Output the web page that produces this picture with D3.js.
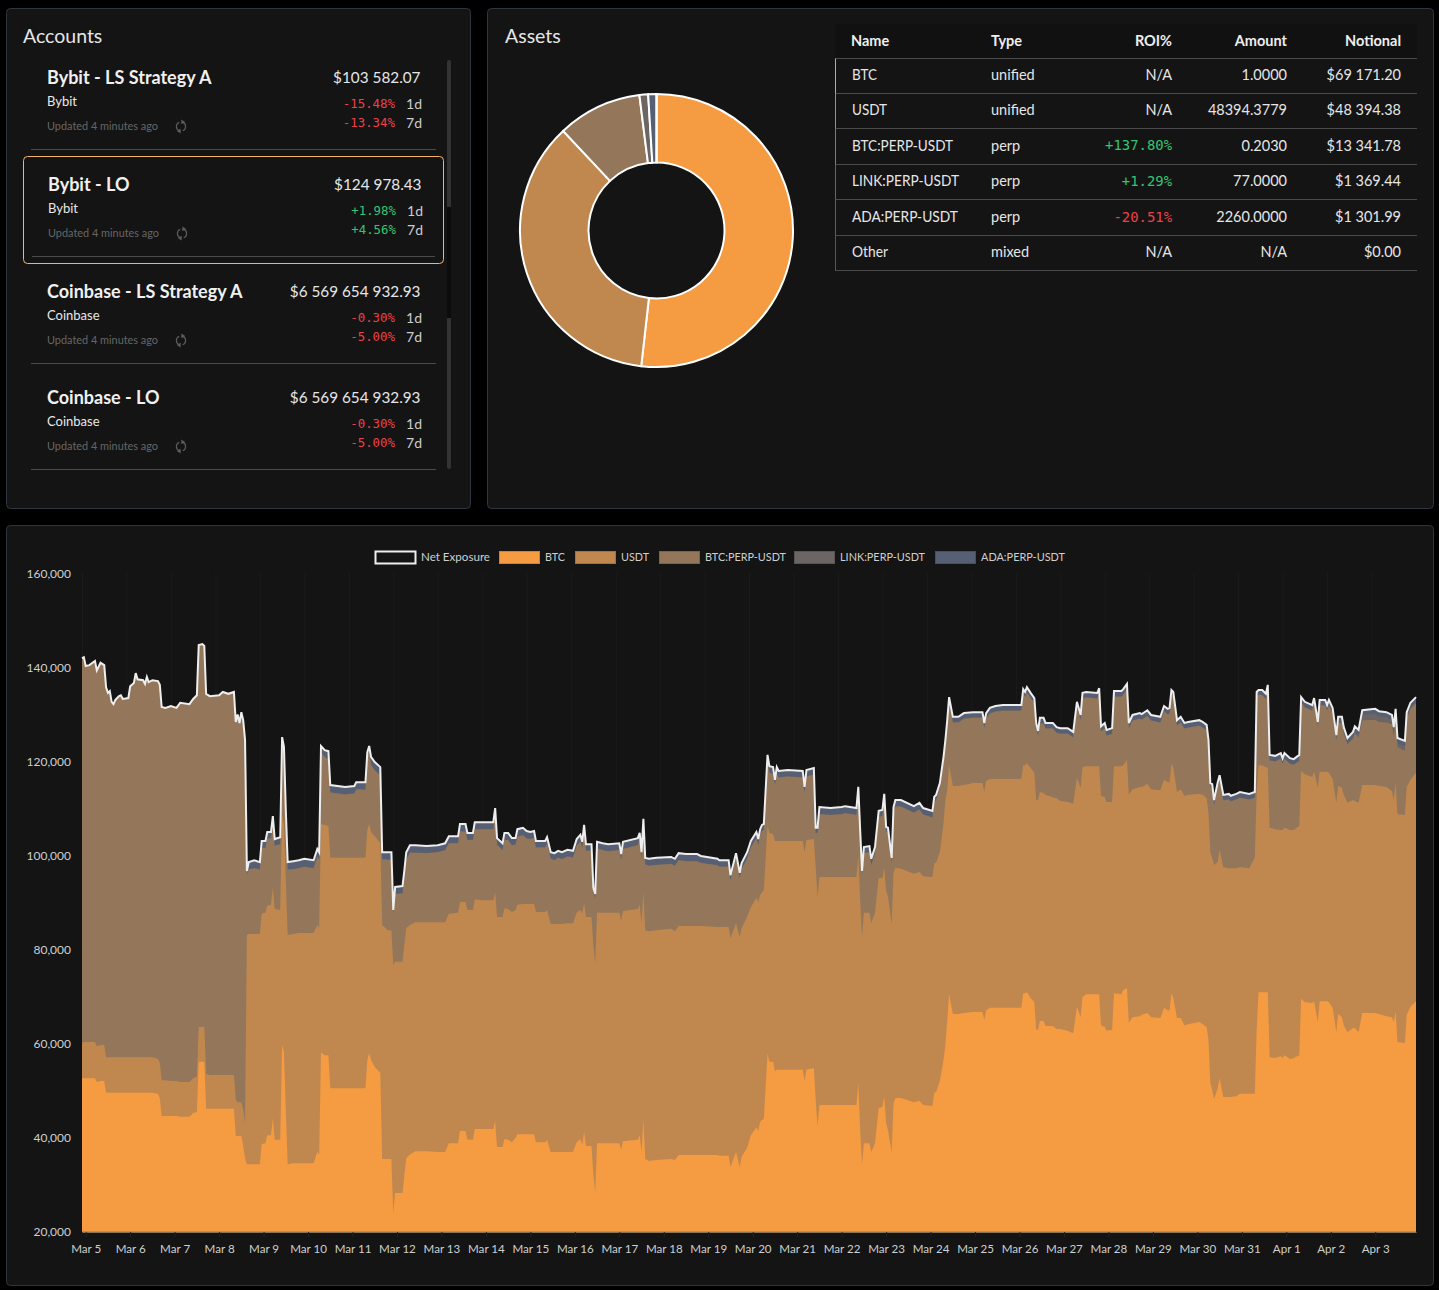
<!DOCTYPE html>
<html>
<head>
<meta charset="utf-8">
<title>Portfolio</title>
<script src="https://cdn.jsdelivr.net/npm/d3@7"></script>
<style>
  html, body { margin: 0; padding: 0; background: #000; }
  svg { display: block; }
  text { font-family: Lato, "Noto Sans", sans-serif; }
  .mono { font-family: "DejaVu Sans Mono", monospace; }
</style>
</head>
<body>
<div id="dashboard"></div>
<script>
// Accounts panel
const accountNames = ['Bybit - LS Strategy A', 'Bybit - LO', 'Coinbase - LS Strategy A', 'Coinbase - LO'];
const accountVenues = ['Bybit', 'Bybit', 'Coinbase', 'Coinbase'];
const accountBalances = ['$103 582.07', '$124 978.43', '$6 569 654 932.93', '$6 569 654 932.93'];
const accountDay = ['-15.48%', '+1.98%', '-0.30%', '-0.30%'];
const accountWeek = ['-13.34%', '+4.56%', '-5.00%', '-5.00%'];

// Assets panel
const assetNames = ['BTC', 'USDT', 'BTC:PERP-USDT', 'LINK:PERP-USDT', 'ADA:PERP-USDT', 'Other'];
const assetTypes = ['unified', 'unified', 'perp', 'perp', 'perp', 'mixed'];
const assetRoi = ['N/A', 'N/A', '+137.80%', '+1.29%', '-20.51%', 'N/A'];
const assetAmounts = ['1.0000', '48394.3779', '0.2030', '77.0000', '2260.0000', 'N/A'];
const assetNotional = ['$69 171.20', '$48 394.38', '$13 341.78', '$1 369.44', '$1 301.99', '$0.00'];
const assetValues = [69171.20, 48394.38, 13341.78, 1369.44, 1301.99, 0];
const assetColors = ['#f59b42', '#c0884f', '#94775a', '#6b6563', '#565f74', '#3b5a8c'];
const tableHeaders = ['Name', 'Type', 'ROI%', 'Amount', 'Notional'];

// Exposure chart, values in thousands of USD, hours counted from the first sample.
const yTickValues = [20, 40, 60, 80, 100, 120, 140, 160];
const xTickLabels = ['Mar 5', 'Mar 6', 'Mar 7', 'Mar 8', 'Mar 9', 'Mar 10', 'Mar 11', 'Mar 12', 'Mar 13', 'Mar 14',
  'Mar 15', 'Mar 16', 'Mar 17', 'Mar 18', 'Mar 19', 'Mar 20', 'Mar 21', 'Mar 22', 'Mar 23', 'Mar 24',
  'Mar 25', 'Mar 26', 'Mar 27', 'Mar 28', 'Mar 29', 'Mar 30', 'Mar 31', 'Apr 1', 'Apr 2', 'Apr 3'];
const xTickHours = [2, 26, 50, 74, 98, 122, 146, 170, 194, 218, 242, 266, 290, 314, 338,
  362, 386, 410, 434, 458, 482, 506, 530, 554, 578, 602, 626, 650, 674, 698];

const hours = [
  0,1,2,4,7,8,10,12,13,14,
  15,16,17,18,20,21,22,25,26,28,
  29,30,33,34,35,36,38,41,42,43,
  45,48,51,53,58,60,62,63,65,66,
  67,69,74,76,79,82,83,84,85,86,
  87,88,89,90,93,96,97,99,100,102,
  103,104,107,108,109,110,111,114,117,120,
  125,127,128,129,131,133,134,142,147,148,
  152,153,154,155,156,158,161,162,165,167,
  168,169,173,174,175,177,180,186,192,196,
  198,203,204,207,208,211,212,216,222,223,
  224,227,228,230,232,234,235,238,240,242,
  244,245,250,251,253,255,257,259,262,265,
  267,269,270,271,272,275,276,277,278,281,
  284,290,291,292,300,301,302,303,304,306,
  310,318,320,322,326,332,334,343,344,349,
  350,353,355,356,359,361,364,365,366,367,
  368,370,371,373,374,375,376,381,389,390,
  391,395,396,397,398,404,410,412,418,419,
  420,421,422,425,426,428,430,432,433,434,
  435,437,438,439,442,449,452,454,459,460,
  461,463,465,466,467,468,470,473,476,481,
  486,487,488,490,493,497,507,508,509,510,
  512,514,515,516,517,519,520,524,526,528,
  532,535,537,539,540,542,548,549,550,552,
  553,556,557,561,562,564,565,567,571,572,
  575,577,582,584,586,587,588,589,591,593,
  595,597,603,605,607,608,609,610,611,613,
  614,616,619,620,623,625,630,633,634,635,
  637,639,640,641,644,647,648,649,652,654,
  657,658,660,664,665,667,668,671,672,673,
  675,677,678,680,681,683,686,687,689,691,
  698,700,704,707,708,709,710,714,715,717,
  720
];

const netExposure = [
  142.0,142.2,140.3,140.5,141.4,139.4,141.0,140.5,135.8,134.6,
  135.0,132.7,132.2,133.1,133.9,134.1,133.3,133.5,136.0,136.7,
  138.8,137.5,137.3,136.5,138.0,136.9,137.3,137.1,136.3,131.6,
  131.4,131.8,131.4,132.5,132.2,133.3,134.1,144.8,145.0,144.6,
  134.4,133.9,134.1,134.8,134.4,134.8,128.4,130.0,128.2,130.5,
  128.8,124.6,96.7,98.6,99.0,98.6,103.1,103.1,105.0,105.0,
  108.4,103.5,103.9,125.2,123.1,109.7,98.6,98.8,99.0,99.3,
  99.0,101.4,100.7,123.3,122.4,122.2,115.0,114.6,114.8,115.6,
  115.6,115.6,122.0,123.3,121.0,119.9,118.8,100.7,100.7,100.7,
  88.4,93.3,93.5,96.9,100.7,102.2,102.2,102.0,102.2,102.6,
  104.1,104.1,106.7,106.7,104.8,104.8,107.1,107.1,107.1,110.1,
  103.7,102.6,104.8,104.8,103.7,103.7,105.6,105.9,105.2,105.0,
  105.2,103.1,103.1,103.9,100.7,100.5,101.0,100.7,101.2,101.0,
  103.5,104.4,102.9,106.5,102.4,102.4,93.1,91.8,102.9,102.6,
  102.4,102.6,100.3,102.9,103.7,104.8,100.7,107.8,99.5,99.3,
  99.5,99.7,99.3,100.5,100.3,100.3,99.9,99.3,99.0,99.0,
  95.8,100.5,96.3,98.4,100.7,103.1,105.0,103.5,105.6,106.5,
  106.7,121.4,119.0,118.8,116.1,118.8,118.0,118.2,118.0,114.6,
  118.2,118.6,105.9,105.9,110.3,110.1,110.3,110.5,110.1,114.6,
  105.4,96.7,101.8,102.0,99.3,101.8,109.5,109.7,113.1,106.1,
  105.9,99.5,110.3,111.8,111.8,110.5,111.2,110.1,109.5,112.5,
  112.9,115.4,121.0,124.6,128.8,133.7,129.5,129.5,130.3,130.5,
  130.5,128.2,130.3,131.4,131.8,132.0,132.0,135.4,134.8,135.8,
  134.6,133.5,128.2,126.5,129.3,129.3,128.2,128.2,127.3,127.1,
  127.1,126.3,132.7,129.9,134.6,134.8,134.6,135.6,127.5,128.2,
  126.7,127.1,135.0,135.0,135.4,136.5,128.2,129.9,130.3,130.1,
  130.9,129.9,129.5,131.8,131.2,131.4,135.2,134.8,128.8,129.5,
  128.2,128.4,128.8,128.4,127.8,124.6,115.4,115.2,111.8,115.6,
  117.1,112.9,113.1,112.7,113.1,113.5,113.1,113.5,134.8,135.2,
  135.2,134.4,136.3,121.4,121.2,121.8,120.7,121.8,120.7,120.5,
  121.4,133.7,132.7,132.0,133.5,128.4,133.1,133.1,132.0,133.1,
  131.4,125.6,129.5,129.5,127.3,125.0,126.3,127.5,126.7,130.9,
  131.2,130.7,130.5,129.9,127.3,131.2,125.0,124.4,130.5,132.5,
  133.7
];

// top edge of the BTC layer
const btcStack = [
  52.6,52.6,52.6,52.6,52.6,51.8,52.0,52.0,49.5,49.5,
  49.5,49.5,49.5,49.5,49.5,49.5,49.5,49.5,49.5,49.5,
  49.5,49.5,49.5,49.5,49.5,49.5,49.5,49.3,48.4,44.6,
  44.6,44.6,44.6,44.4,44.4,45.2,45.4,56.1,56.1,56.1,
  46.1,46.1,46.1,46.1,46.1,46.1,40.3,40.3,40.3,40.3,
  38.2,35.6,34.3,34.3,34.3,34.3,38.6,38.8,40.5,40.5,
  44.1,39.5,39.5,59.7,58.1,45.9,34.3,34.5,34.5,34.5,
  34.5,36.9,36.4,58.1,57.5,57.5,50.5,50.5,50.5,50.5,
  50.5,50.5,56.5,58.0,56.5,55.0,53.8,35.4,35.4,35.4,
  23.9,28.2,28.2,32.0,35.6,36.4,37.1,37.1,36.9,36.9,
  38.8,38.8,41.4,41.4,39.5,39.5,41.8,41.8,41.8,43.5,
  38.0,38.0,39.7,39.5,39.0,39.9,40.7,40.7,40.7,40.7,
  40.7,39.0,39.0,39.5,36.9,36.9,36.9,36.9,36.9,36.9,
  39.0,39.7,38.4,41.2,38.2,38.2,32.0,28.4,38.8,38.8,
  38.8,38.8,37.4,39.2,39.5,40.5,36.9,43.7,35.4,35.0,
  35.2,35.4,35.2,36.3,36.3,36.3,36.3,36.3,36.1,36.1,
  33.7,36.9,33.7,35.9,37.8,40.5,42.2,41.4,43.3,43.7,
  43.9,57.8,56.1,56.1,54.1,54.4,54.4,54.4,54.4,52.0,
  54.4,54.8,48.0,42.4,46.9,46.9,46.9,46.9,46.9,51.6,
  41.6,34.3,38.8,38.8,36.9,38.8,46.3,46.5,48.8,43.1,
  41.6,36.9,47.3,48.4,48.4,47.5,47.8,46.9,46.7,49.5,
  49.7,52.0,56.5,59.7,65.0,70.5,66.3,66.3,66.5,66.7,
  66.7,65.0,67.1,67.6,67.6,67.6,67.6,70.7,70.7,70.9,
  69.7,68.8,62.9,62.9,64.8,64.8,63.7,63.7,63.1,63.1,
  62.7,62.2,67.8,65.6,69.9,70.5,70.5,70.5,63.9,63.5,
  62.7,62.9,70.7,70.5,71.4,71.8,64.4,65.6,65.8,66.1,
  66.5,65.6,65.4,67.6,67.1,67.1,70.7,69.7,65.4,65.4,
  63.9,64.1,64.6,64.1,63.5,60.7,51.6,50.1,48.2,50.5,
  52.6,48.6,48.6,48.6,48.8,49.3,49.3,49.3,62.9,70.9,
  70.9,70.9,70.9,57.1,56.9,57.3,56.9,57.5,56.7,56.9,
  57.5,69.5,68.8,68.6,69.0,64.6,69.0,69.0,69.0,68.8,
  67.6,62.4,66.3,65.6,63.9,62.4,63.3,63.3,62.4,66.5,
  66.5,66.3,65.8,65.6,64.6,66.7,60.3,60.1,66.1,67.8,
  69.0
];

// top edge of the USDT layer
const usdtStack = [
  60.1,60.3,60.3,60.3,60.3,59.4,59.7,59.7,57.1,57.1,
  57.1,57.1,57.1,57.1,57.1,57.1,57.1,57.1,57.1,57.1,
  57.1,57.1,57.1,57.1,57.1,57.1,57.1,56.7,55.9,52.2,
  52.2,52.0,52.0,51.8,51.8,52.6,52.9,63.5,63.5,63.5,
  53.5,53.3,53.3,53.3,53.3,53.3,48.0,47.5,47.5,47.5,
  45.9,43.1,83.1,83.3,83.3,83.3,87.6,87.8,89.3,89.5,
  93.1,88.6,88.4,108.6,106.5,94.8,83.1,83.3,83.5,83.5,
  83.5,85.2,84.6,106.7,106.5,106.3,99.5,99.5,99.5,99.5,
  99.5,99.5,105.4,106.7,105.0,104.1,102.6,85.2,84.1,84.1,
  76.7,77.4,77.4,81.0,84.6,85.2,85.8,85.8,85.8,85.8,
  87.6,87.8,90.1,90.1,88.4,88.4,90.7,90.5,90.5,92.2,
  86.9,86.9,88.8,88.6,88.0,88.4,89.5,89.7,89.7,89.7,
  89.7,88.0,88.0,88.4,85.4,85.4,85.4,85.4,85.6,85.6,
  87.8,88.4,87.6,89.9,86.9,86.9,81.0,77.1,87.8,87.8,
  87.8,87.8,86.1,88.2,88.6,89.5,85.6,92.2,84.1,83.9,
  84.1,84.4,83.9,85.0,85.0,85.0,85.0,84.8,84.8,84.8,
  82.4,85.6,82.6,84.6,86.9,89.0,91.0,90.1,91.6,92.2,
  92.6,106.3,104.8,104.6,103.1,103.1,103.1,103.1,103.1,100.7,
  103.3,103.5,97.5,91.2,95.4,95.4,95.4,95.4,95.4,100.1,
  90.5,82.6,87.8,87.8,85.6,87.8,95.2,95.2,97.4,92.6,
  91.2,85.4,96.3,97.4,97.2,96.1,96.5,95.6,95.4,98.4,
  98.4,100.7,106.9,111.8,113.9,119.2,114.8,114.8,115.0,115.4,
  115.4,113.5,115.9,116.3,116.3,116.3,116.3,119.2,119.2,119.7,
  118.6,117.6,111.8,111.8,113.5,113.3,112.9,112.4,112.2,111.6,
  111.4,111.0,116.5,114.4,118.8,119.0,119.0,119.0,112.7,112.4,
  111.4,111.4,119.0,119.0,119.2,120.3,112.9,114.1,114.6,114.6,
  115.2,114.1,113.9,116.1,115.6,115.6,119.5,118.8,113.5,114.1,
  112.7,112.9,113.1,112.9,112.2,109.0,100.7,99.5,98.0,98.6,
  101.2,97.5,97.3,97.3,97.3,97.5,97.3,99.5,113.3,119.2,
  119.2,118.8,118.8,105.9,105.6,105.4,105.4,105.9,105.4,105.4,
  106.3,118.0,117.3,116.7,117.8,114.4,117.8,117.8,117.8,117.6,
  116.3,111.2,114.8,114.4,112.9,111.2,111.8,111.6,111.2,115.0,
  115.0,114.8,114.6,113.7,111.8,115.4,108.8,108.6,114.6,116.1,
  117.6
];

const adaValues = [
  0,0,0,0,0,0,0,0,0,0,
  0,0,0,0,0,0,0,0,0,0,
  0,0,0,0,0,0,0,0,0,0,
  0,0,0,0,0,0,0,0,0,0,
  0,0,0,0,0,0,0,0,0,0,
  0,0,0.8,1.5,1.6,1.5,1.4,1.4,1.3,1.3,
  1.3,1.3,1.4,0.8,1.0,1.2,1.5,1.6,1.6,1.6,
  1.6,1.5,1.5,1.2,1.4,1.6,1.5,1.5,1.5,1.4,
  1.5,1.5,1.4,0.9,1.6,1.7,1.6,1.4,1.5,1.5,
  0.8,1.4,1.5,1.2,1.5,1.5,1.5,1.4,1.4,1.4,
  1.4,1.4,1.5,1.5,1.4,1.4,1.4,1.4,1.4,0.9,
  1.3,1.4,1.4,1.4,1.4,1.3,1.5,1.5,1.5,1.4,
  1.4,1.3,1.3,1.3,1.3,1.4,1.4,1.4,1.3,1.3,
  1.3,1.3,1.3,1.0,1.3,1.3,1.0,0.8,1.3,1.4,
  1.4,1.4,1.2,1.4,1.4,1.2,1.3,0.6,1.3,1.4,
  1.4,1.4,1.4,1.4,1.4,1.4,1.4,1.3,1.3,1.3,
  1.0,1.0,1.0,1.2,1.3,1.3,1.2,1.2,1.2,1.2,
  1.2,1.0,1.3,1.4,1.0,1.3,1.3,1.3,1.3,1.2,
  1.3,1.3,1.0,1.0,1.4,1.4,1.4,1.4,1.4,1.0,
  1.0,0.8,1.2,1.2,1.2,1.2,1.2,1.2,1.0,0.9,
  1.0,1.0,1.2,1.3,1.3,1.3,1.3,1.3,1.3,1.1,
  1.1,1.0,0.9,0.8,0.8,0.9,1.1,1.1,1.1,1.1,
  1.1,1.0,1.1,1.1,1.1,1.1,1.1,0.9,1.0,1.0,
  1.0,1.0,1.0,1.0,1.1,1.1,1.1,1.1,1.1,1.1,
  1.1,1.1,0.9,1.0,1.1,1.1,1.1,1.0,1.0,1.1,
  1.1,1.1,1.1,1.1,1.1,1.0,1.0,1.1,1.1,1.1,
  1.1,1.1,1.1,1.0,1.1,1.1,1.0,1.0,1.1,1.1,
  1.1,1.1,1.1,1.1,1.1,1.0,0.9,1.0,1.0,1.0,
  1.0,1.1,1.1,1.1,1.1,1.1,1.1,1.1,0.9,0.9,
  1.0,1.0,0.9,1.1,1.1,1.1,1.1,1.1,1.1,1.1,
  1.1,0.9,1.0,1.0,1.0,0.8,1.0,1.0,1.0,1.0,
  1.0,0.9,1.0,1.0,0.9,0.9,1.0,1.0,1.0,1.0,
  1.0,1.0,1.0,1.0,0.9,0.9,1.1,1.1,1.0,1.0,
  1.0
];

const linkValues = [
  0,0,0,0,0,0,0,0,0,0,
  0,0,0,0,0,0,0,0,0,0,
  0,0,0,0,0,0,0,0,0,0,
  0,0,0,0,0,0,0,0,0,0,
  0,0,0,0,0,0,0,0,0,0,
  0,0,0,0.1,0.1,0.1,0.1,0.1,0.1,0.1,
  0.1,0.1,0.1,0.1,0.1,0.1,0.1,0.1,0.1,0.1,
  0.1,0.1,0.1,0.1,0.1,0.1,0.1,0.1,0.1,0.1,
  0.1,0.1,0.1,0.1,0.1,0.1,0.1,0.1,0.1,0.1,
  0.1,0.1,0.1,0.1,0.1,0.1,0.1,0.1,0.1,0.1,
  0.1,0.1,0.1,0.1,0.1,0.1,0.1,0.1,0.1,0.1,
  0.1,0.1,0.1,0.1,0.1,0.1,0.1,0.1,0.1,0.1,
  0.1,0.1,0.1,0.1,0.1,0.1,0.1,0.1,0.1,0.1,
  0.1,0.1,0.1,0.1,0.1,0.1,0.1,0.1,0.1,0.1,
  0.1,0.1,0.1,0.1,0.1,0.1,0.1,0.1,0.1,0.1,
  0.1,0.1,0.1,0.1,0.1,0.1,0.1,0.1,0.1,0.1,
  0.1,0.1,0.1,0.1,0.1,0.1,0.1,0.1,0.1,0.1,
  0.1,0.1,0.1,0.1,0.1,0.1,0.1,0.1,0.1,0.1,
  0.1,0.1,0.1,0.1,0.1,0.1,0.1,0.1,0.1,0.1,
  0.1,0.1,0.1,0.1,0.1,0.1,0.1,0.1,0.1,0.1,
  0.1,0.1,0.1,0.1,0.1,0.1,0.1,0.1,0.1,0.1,
  0.1,0.1,0.1,0.1,0.1,0.1,0.1,0.1,0.1,0.1,
  0.1,0.1,0.1,0.1,0.1,0.1,0.1,0.1,0.1,0.1,
  0.1,0.1,0.1,0.1,0.1,0.1,0.1,0.1,0.1,0.1,
  0.1,0.1,0.1,0.1,0.1,0.1,0.1,0.1,0.1,0.1,
  0.1,0.1,0.1,0.1,0.1,0.1,0.1,0.1,0.1,0.1,
  0.1,0.1,0.1,0.1,0.1,0.1,0.1,0.1,0.1,0.1,
  0.1,0.1,0.1,0.1,0.1,0.1,0.1,0.1,0.1,0.1,
  0.1,0.1,0.1,0.1,0.1,0.1,0.1,0.1,0.1,0.1,
  0.1,0.1,0.1,0.1,0.1,0.1,0.1,0.1,0.1,0.1,
  0.2,0.2,0.2,0.2,0.2,0.2,0.2,0.2,0.2,0.2,
  0.2,0.3,0.3,0.3,0.4,0.5,0.5,0.5,0.6,1.2,
  1.3,1.3,1.2,1.0,0.9,0.7,0.8,1.0,0.4,0.3,
  0.3
];

const legendNames = ['Net Exposure', 'BTC', 'USDT', 'BTC:PERP-USDT', 'LINK:PERP-USDT', 'ADA:PERP-USDT'];
const legendColors = ['#141414', '#f59b42', '#c0884f', '#94775a', '#6b6563', '#565f74'];

const red = '#ef4048', green = '#34c572', textColor = '#e6e6e6', panelColor = '#141414';

const svg = d3.select('#dashboard').append('svg')
  .attr('width', 1439)
  .attr('height', 1290);

function label(parent, x, y, str, size, color, anchor, weight) {
  return parent.append('text')
    .attr('x', x)
    .attr('y', y)
    .attr('dy', '0.35em')
    .attr('text-anchor', anchor || 'start')
    .attr('font-size', size)
    .attr('font-weight', weight || 400)
    .attr('fill', color)
    .text(str);
}

function pctColor(str) {
  return str[0] === '-' ? red : green;
}

// panels
[[6.5, 8.5, 464, 500], [487.5, 8.5, 946, 500], [6.5, 525.5, 1427, 760]].forEach(p => {
  svg.append('rect')
    .attr('x', p[0]).attr('y', p[1]).attr('width', p[2]).attr('height', p[3])
    .attr('rx', 4)
    .attr('fill', panelColor)
    .attr('stroke', '#2e3440');
});

// --- accounts ---
label(svg, 23, 36, 'Accounts', 19.5, textColor);

svg.append('rect').attr('x', 447).attr('y', 60).attr('width', 4).attr('height', 409).attr('rx', 2).attr('fill', '#333');
svg.append('rect').attr('x', 447).attr('y', 207).attr('width', 4).attr('height', 111).attr('fill', '#0c0c0c');

svg.append('rect')
  .attr('x', 23.5).attr('y', 156.5).attr('width', 420).attr('height', 107)
  .attr('rx', 4)
  .attr('fill', 'none')
  .attr('stroke', '#f2b46c');

const rowOffsets = [[0, 0], [1, 107], [0, 214], [0, 320]];
const refreshIcon = d3.arc().innerRadius(4).outerRadius(5.2);

accountNames.forEach((name, i) => {
  const g = svg.append('g').attr('transform', 'translate(' + rowOffsets[i][0] + ',' + rowOffsets[i][1] + ')');
  label(g, 47, 77.5, name, 18, '#f0f0f0', 'start', 700);
  label(g, 47, 101.5, accountVenues[i], 13, '#e8e8e8');
  label(g, 47, 126, 'Updated 4 minutes ago', 10.9, '#666');
  label(g, 420.5, 77.5, accountBalances[i], 15.3, textColor, 'end');
  label(g, 395, 104, accountDay[i], 12.4, pctColor(accountDay[i]), 'end').attr('class', 'mono');
  label(g, 395, 123, accountWeek[i], 12.4, pctColor(accountWeek[i]), 'end').attr('class', 'mono');
  label(g, 422, 104, '1d', 14, '#ccc', 'end');
  label(g, 422, 123, '7d', 14, '#ccc', 'end');

  // refresh glyph: two arcs with little arrow heads
  const icon = g.append('g').attr('transform', 'translate(181,126.5)').attr('fill', '#5c5c5c');
  icon.append('path').attr('d', refreshIcon({ startAngle: 0.35, endAngle: 2.75 }));
  icon.append('path').attr('d', refreshIcon({ startAngle: 3.5, endAngle: 5.9 }));
  icon.append('path').attr('d', d3.symbol(d3.symbolTriangle, 9)()).attr('transform', 'translate(1.6,-4.6) rotate(90)');
  icon.append('path').attr('d', d3.symbol(d3.symbolTriangle, 9)()).attr('transform', 'translate(-1.6,4.6) rotate(-90)');

  g.append('line')
    .attr('x1', 31).attr('x2', i === 1 ? 434 : 436)
    .attr('y1', 149.5).attr('y2', 149.5)
    .attr('stroke', '#4a4a4a');
});

// --- assets ---
label(svg, 505, 36, 'Assets', 19.5, textColor);

const pie = d3.pie().sort(null)(assetValues);
const donutArc = d3.arc().innerRadius(68).outerRadius(136.5);

svg.append('g')
  .attr('transform', 'translate(656.5,230.5)')
  .selectAll('path')
  .data(pie)
  .enter()
  .append('path')
  .attr('d', donutArc)
  .attr('fill', (d, i) => assetColors[i])
  .attr('stroke', '#fff')
  .attr('stroke-width', 2);

svg.append('rect').attr('x', 835).attr('y', 24).attr('width', 582).attr('height', 34).attr('fill', '#111');

const columnX = [851, 991, 1172, 1287, 1401];
const columnAnchor = ['start', 'start', 'end', 'end', 'end'];
tableHeaders.forEach((h, i) => {
  label(svg, columnX[i], 41, h, 14.5, '#eee', columnAnchor[i], 700);
});

const rowLines = [58.5, 93.5, 128.5, 164.5, 199.5, 235.5, 270.5];
const rowText = [75, 110, 145.5, 181, 217, 252];
// the reference font runs narrower on capitals, so the name column is fitted
const nameWidths = [25, 35, 101, 107, 106, 36];

svg.append('line').attr('x1', 835).attr('x2', 1417).attr('y1', rowLines[0]).attr('y2', rowLines[0]).attr('stroke', '#4a4a4a');
assetNames.forEach((name, i) => {
  svg.append('line').attr('x1', 835).attr('x2', 1417).attr('y1', rowLines[i + 1]).attr('y2', rowLines[i + 1]).attr('stroke', '#4a4a4a');
  svg.append('line').attr('x1', 835.5).attr('x2', 835.5).attr('y1', rowLines[i]).attr('y2', rowLines[i + 1]).attr('stroke', assetColors[i]);
  label(svg, 852, rowText[i], name, 14.5, textColor)
    .attr('textLength', nameWidths[i])
    .attr('lengthAdjust', 'spacingAndGlyphs');
  label(svg, 991, rowText[i], assetTypes[i], 14.5, textColor);
  const isNa = assetRoi[i] === 'N/A';
  const roi = label(svg, 1172, rowText[i], assetRoi[i], isNa ? 14.5 : 13.9, isNa ? textColor : pctColor(assetRoi[i]), 'end');
  if (!isNa) roi.attr('class', 'mono');
  label(svg, 1287, rowText[i], assetAmounts[i], 14.5, textColor, 'end');
  label(svg, 1401, rowText[i], assetNotional[i], 14.5, textColor, 'end');
});

// --- exposure chart ---
const xScale = d3.scaleLinear().domain([0, 720]).range([82, 1416]);
const yScale = d3.scaleLinear().domain([20, 160]).range([1231.5, 573.5]);

const chart = svg.append('g');

// faint day grid behind the areas
chart.append('g')
  .attr('transform', 'translate(0,1232)')
  .call(d3.axisBottom(xScale).tickValues(xTickHours.map(h => h - 2)).tickSize(-659).tickFormat(''))
  .call(g => g.select('.domain').remove())
  .selectAll('line').attr('stroke', '#1b1b1b');

const perpStack = netExposure.map((v, i) => v - adaValues[i] - linkValues[i]);
const linkStack = netExposure.map((v, i) => v - adaValues[i]);

// painted top layer first and each down to the baseline, so no seams show between layers
const layers = [
  [netExposure, legendColors[5]],
  [linkStack, legendColors[4]],
  [perpStack, legendColors[3]],
  [usdtStack, legendColors[2]],
  [btcStack, legendColors[1]]
];

layers.forEach(layer => {
  const area = d3.area()
    .x(h => xScale(h))
    .y0(yScale(20))
    .y1((h, i) => yScale(layer[0][i]));
  chart.append('path')
    .attr('d', area(hours))
    .attr('fill', layer[1]);
});

const netLine = d3.line()
  .x(h => xScale(h))
  .y((h, i) => yScale(netExposure[i]));

chart.append('path')
  .attr('d', netLine(hours))
  .attr('fill', 'none')
  .attr('stroke', '#eeeeee')
  .attr('stroke-width', 2);

// axes
const yAxis = chart.append('g')
  .attr('transform', 'translate(82,0)')
  .call(d3.axisLeft(yScale).tickValues(yTickValues).tickSize(0).tickPadding(11).tickFormat(d => d3.format(',')(d * 1000)));
yAxis.select('.domain').remove();
yAxis.selectAll('text').attr('font-size', 12).attr('fill', '#cfcfcf');

const xAxis = chart.append('g')
  .attr('transform', 'translate(0,1232)')
  .call(d3.axisBottom(xScale).tickValues(xTickHours).tickSizeInner(5).tickSizeOuter(0).tickPadding(8).tickFormat((d, i) => xTickLabels[i]));
xAxis.select('.domain').attr('stroke', '#8a7456');
xAxis.selectAll('line').attr('stroke', '#222');
xAxis.selectAll('text').attr('font-size', 11.6).attr('fill', '#cfcfcf');

// legend
const legendBoxX = [375, 499, 575, 659, 794, 935];
const legendWidths = [69, 20, 28, 81, 85, 84];
legendNames.forEach((name, i) => {
  chart.append('rect')
    .attr('x', legendBoxX[i] + 0.5).attr('y', 551.5).attr('width', 40).attr('height', 12)
    .attr('fill', legendColors[i])
    .attr('stroke', i === 0 ? '#eee' : d3.color(legendColors[i]).darker(0.5))
    .attr('stroke-width', i === 0 ? 2 : 1);
  label(chart, legendBoxX[i] + 46, 557, name, 11.5, '#cfcfcf')
    .attr('textLength', legendWidths[i])
    .attr('lengthAdjust', 'spacingAndGlyphs');
});
</script>
</body>
</html>
